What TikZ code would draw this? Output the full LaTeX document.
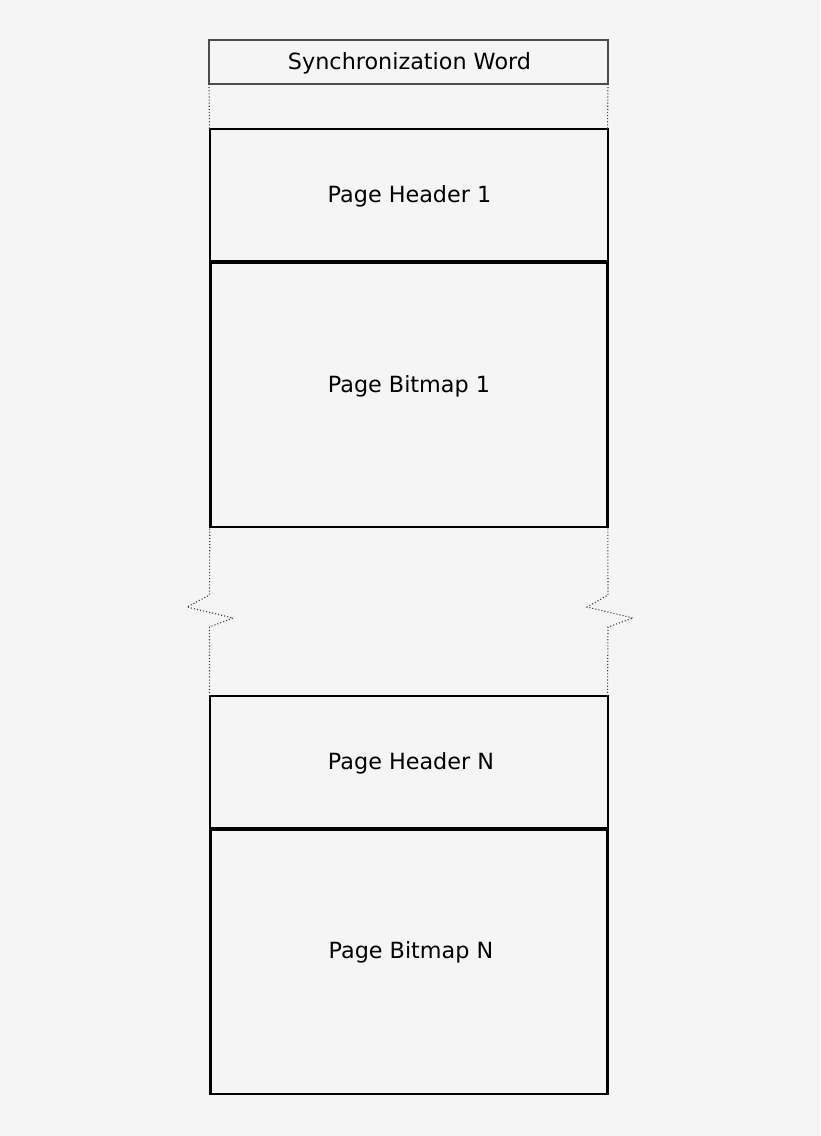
\documentclass[tikz,border=0pt]{standalone}
\usepackage{fontspec}
\setmainfont{DejaVu Sans}
\definecolor{bg}{HTML}{F5F5F5}
\begin{document}
\begin{tikzpicture}[x=1pt,y=-1pt,
  box/.style={draw=black, fill=none, inner sep=0pt, outer sep=0pt, anchor=center},
  lbl/.style={font=\fontsize{22.3}{26}\selectfont, inner sep=0pt, anchor=center},
  gap/.style={draw=black!75, line width=1.1pt, dotted}]
\fill[bg] (0,0) rectangle (820,1136);
\useasboundingbox (0,0) rectangle (820,1136);
% boxes
\node[box, draw=black!70, line width=1.1pt, minimum width=399pt, minimum height=44pt] (sync) at (408.5,62) {};
\node[box, line width=2pt, minimum width=398pt, minimum height=132pt] (h1) at (408.5,195) {};
\node[box, line width=2.6pt, minimum width=397pt, minimum height=264pt] (b1) at (408.8,395) {};
\node[box, line width=2pt, minimum width=398pt, minimum height=132pt] (hn) at (408.5,762) {};
\node[box, line width=2.6pt, minimum width=397pt, minimum height=264pt] (bn) at (408.8,962) {};
% labels
\node[lbl] (tsync) at (409.5,63) {Synchronization Word};
\node[lbl] (th1) at (409.5,196.5) {Page Header 1};
\node[lbl] (tb1) at (409,386) {Page Bitmap 1};
\node[lbl] (thn) at (411,763.5) {Page Header N};
\node[lbl] (tbn) at (411,952.5) {Page Bitmap N};
% dotted gap between sync and header 1
\draw[gap] (sync.south west) -- (h1.north west);
\draw[gap] (sync.south east) -- (h1.north east);
% break with zigzags
\coordinate (lz1) at (209.5,595);
\coordinate (lz2) at (187,607);
\coordinate (lz3) at (233,618);
\coordinate (lz4) at (209.5,627);
\coordinate (rz1) at (608,595);
\coordinate (rz2) at (587,607);
\coordinate (rz3) at (633,618);
\coordinate (rz4) at (608,627);
\draw[gap] (b1.south west) ++(-0.5,1.5) -- (lz1) -- (lz2) -- (lz3) -- (lz4) -- (hn.north west);
\draw[gap] (b1.south east) ++(0.5,1.5) -- (rz1) -- (rz2) -- (rz3) -- (rz4) -- (hn.north east);
\end{tikzpicture}
\end{document}
